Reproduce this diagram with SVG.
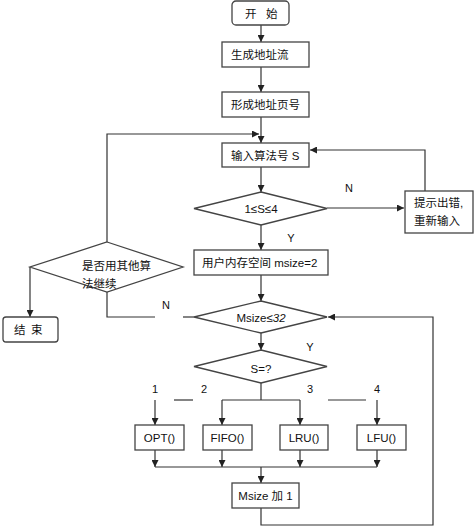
<svg xmlns="http://www.w3.org/2000/svg" width="474" height="527" viewBox="0 0 474 527">
<defs>
<marker id="ah" viewBox="0 0 10 10" refX="10" refY="5" markerWidth="7" markerHeight="7" markerUnits="userSpaceOnUse" orient="auto">
<path d="M0,0 L10,5 L0,10 z" fill="#222"/>
</marker>
<style>
.n rect,.n polygon{fill:#fff;stroke:#444;stroke-width:1.3}
.t{font-family:"Liberation Sans","Noto Sans CJK SC",sans-serif;font-size:11.5px;fill:#111}
.l{font-family:"Liberation Sans","Noto Sans CJK SC",sans-serif;font-size:11px;fill:#111}
.c line,.c polyline{stroke:#333;stroke-width:1.2;fill:none}
.a{marker-end:url(#ah)}
</style>
</defs>
<rect width="474" height="527" fill="#fff"/>
<g class="c" id="connectors">
<line class="a" x1="261" y1="25" x2="261" y2="42"/>
<line class="a" x1="261" y1="67" x2="261" y2="92"/>
<line class="a" x1="261" y1="117" x2="261" y2="143"/>
<polyline class="a" points="107,242 107,134 259,134"/>
<line class="a" x1="261" y1="167" x2="261" y2="192"/>
<line class="a" x1="327" y1="208" x2="404" y2="208"/>
<polyline class="a" points="425,191 425,150 310,150"/>
<line class="a" x1="261" y1="225" x2="261" y2="250"/>
<polyline class="a" points="30,267 30,317"/>
<polyline points="107,292 107,317 155,317"/>
<line x1="183" y1="317" x2="194" y2="317"/>
<line class="a" x1="261" y1="275" x2="261" y2="301"/>
<line class="a" x1="261" y1="333" x2="261" y2="350"/>
<polyline class="a" points="261,508 261,525 433,525 433,317 328,317"/>
<line x1="261" y1="383" x2="261" y2="400"/>
<line x1="222" y1="400" x2="300" y2="400"/>
<line class="a" x1="222" y1="400" x2="222" y2="425"/>
<line class="a" x1="300" y1="400" x2="300" y2="425"/>
<line class="a" x1="155" y1="400" x2="155" y2="425"/>
<line class="a" x1="377" y1="400" x2="377" y2="425"/>
<line x1="174" y1="400" x2="193" y2="400"/>
<line x1="328" y1="400" x2="366" y2="400"/>
<line class="a" x1="155" y1="450" x2="155" y2="467"/>
<line class="a" x1="222" y1="450" x2="222" y2="467"/>
<line class="a" x1="300" y1="450" x2="300" y2="467"/>
<line class="a" x1="377" y1="450" x2="377" y2="467"/>
<line x1="155" y1="467" x2="377" y2="467"/>
<line class="a" x1="261" y1="467" x2="261" y2="483"/>
</g>
<g id="labels">
<text class="l" x="349" y="192" text-anchor="middle">N</text>
<text class="l" x="291" y="242" text-anchor="middle">Y</text>
<text class="l" x="166" y="309" text-anchor="middle">N</text>
<text class="l" x="310" y="351" text-anchor="middle">Y</text>
<text class="l" x="155" y="393" text-anchor="middle">1</text>
<text class="l" x="204" y="393" text-anchor="middle">2</text>
<text class="l" x="310" y="393" text-anchor="middle">3</text>
<text class="l" x="377" y="393" text-anchor="middle">4</text>
</g>
<g class="n" id="start"><rect x="232" y="1" width="57" height="24" rx="4"/><text class="t" x="245" y="17.5" xml:space="preserve">开<tspan x="266">始</tspan></text></g>
<g class="n" id="gen"><rect x="222" y="42" width="87" height="25"/><text class="t" x="231" y="59">生成地址流</text></g>
<g class="n" id="page"><rect x="222" y="92" width="87" height="25"/><text class="t" x="231" y="109">形成地址页号</text></g>
<g class="n" id="input"><rect x="222" y="143" width="87" height="24"/><text class="t" x="231" y="159.5">输入算法号 S</text></g>
<g class="n" id="check"><polygon points="261,192 327,208.5 261,225 194,208.5"/><text class="t" x="261" y="213" text-anchor="middle">1≤S≤4</text></g>
<g class="n" id="err"><rect x="405" y="191" width="68" height="42"/><text class="t" x="414" y="207">提示出错,</text><text class="t" x="414" y="225">重新输入</text></g>
<g class="n" id="mem"><rect x="194" y="250" width="134" height="25"/><text class="t" x="202" y="267">用户内存空间 msize=2</text></g>
<g class="n" id="other"><polygon points="107,242 183,267 107,292 30,267"/><text class="t" x="82" y="270">是否用其他算</text><text class="t" x="82" y="288">法继续</text></g>
<g class="n" id="end"><rect x="3" y="317" width="55" height="25" rx="3"/><text class="t" x="14" y="334" xml:space="preserve">结<tspan x="31">束</tspan></text></g>
<g class="n" id="msize"><polygon points="261,301 327,317 261,333 194,317"/><text class="t" x="261" y="321.5" text-anchor="middle">Msize≤<tspan font-style="italic">32</tspan></text></g>
<g class="n" id="s"><polygon points="261,350 327,366.5 261,383 194,366.5"/><text class="t" x="261" y="373" text-anchor="middle">S=?</text></g>
<g class="n" id="opt"><rect x="135" y="425" width="49" height="25"/><text class="t" x="159.5" y="442" text-anchor="middle">OPT()</text></g>
<g class="n" id="fifo"><rect x="203" y="425" width="49" height="25"/><text class="t" x="227.5" y="442" text-anchor="middle">FIFO()</text></g>
<g class="n" id="lru"><rect x="280" y="425" width="48" height="25"/><text class="t" x="304" y="442" text-anchor="middle">LRU()</text></g>
<g class="n" id="lfu"><rect x="357" y="425" width="49" height="25"/><text class="t" x="381.5" y="442" text-anchor="middle">LFU()</text></g>
<g class="n" id="inc"><rect x="232" y="483" width="67" height="25"/><text class="t" x="265.5" y="500" text-anchor="middle">Msize 加 1</text></g>
</svg>
